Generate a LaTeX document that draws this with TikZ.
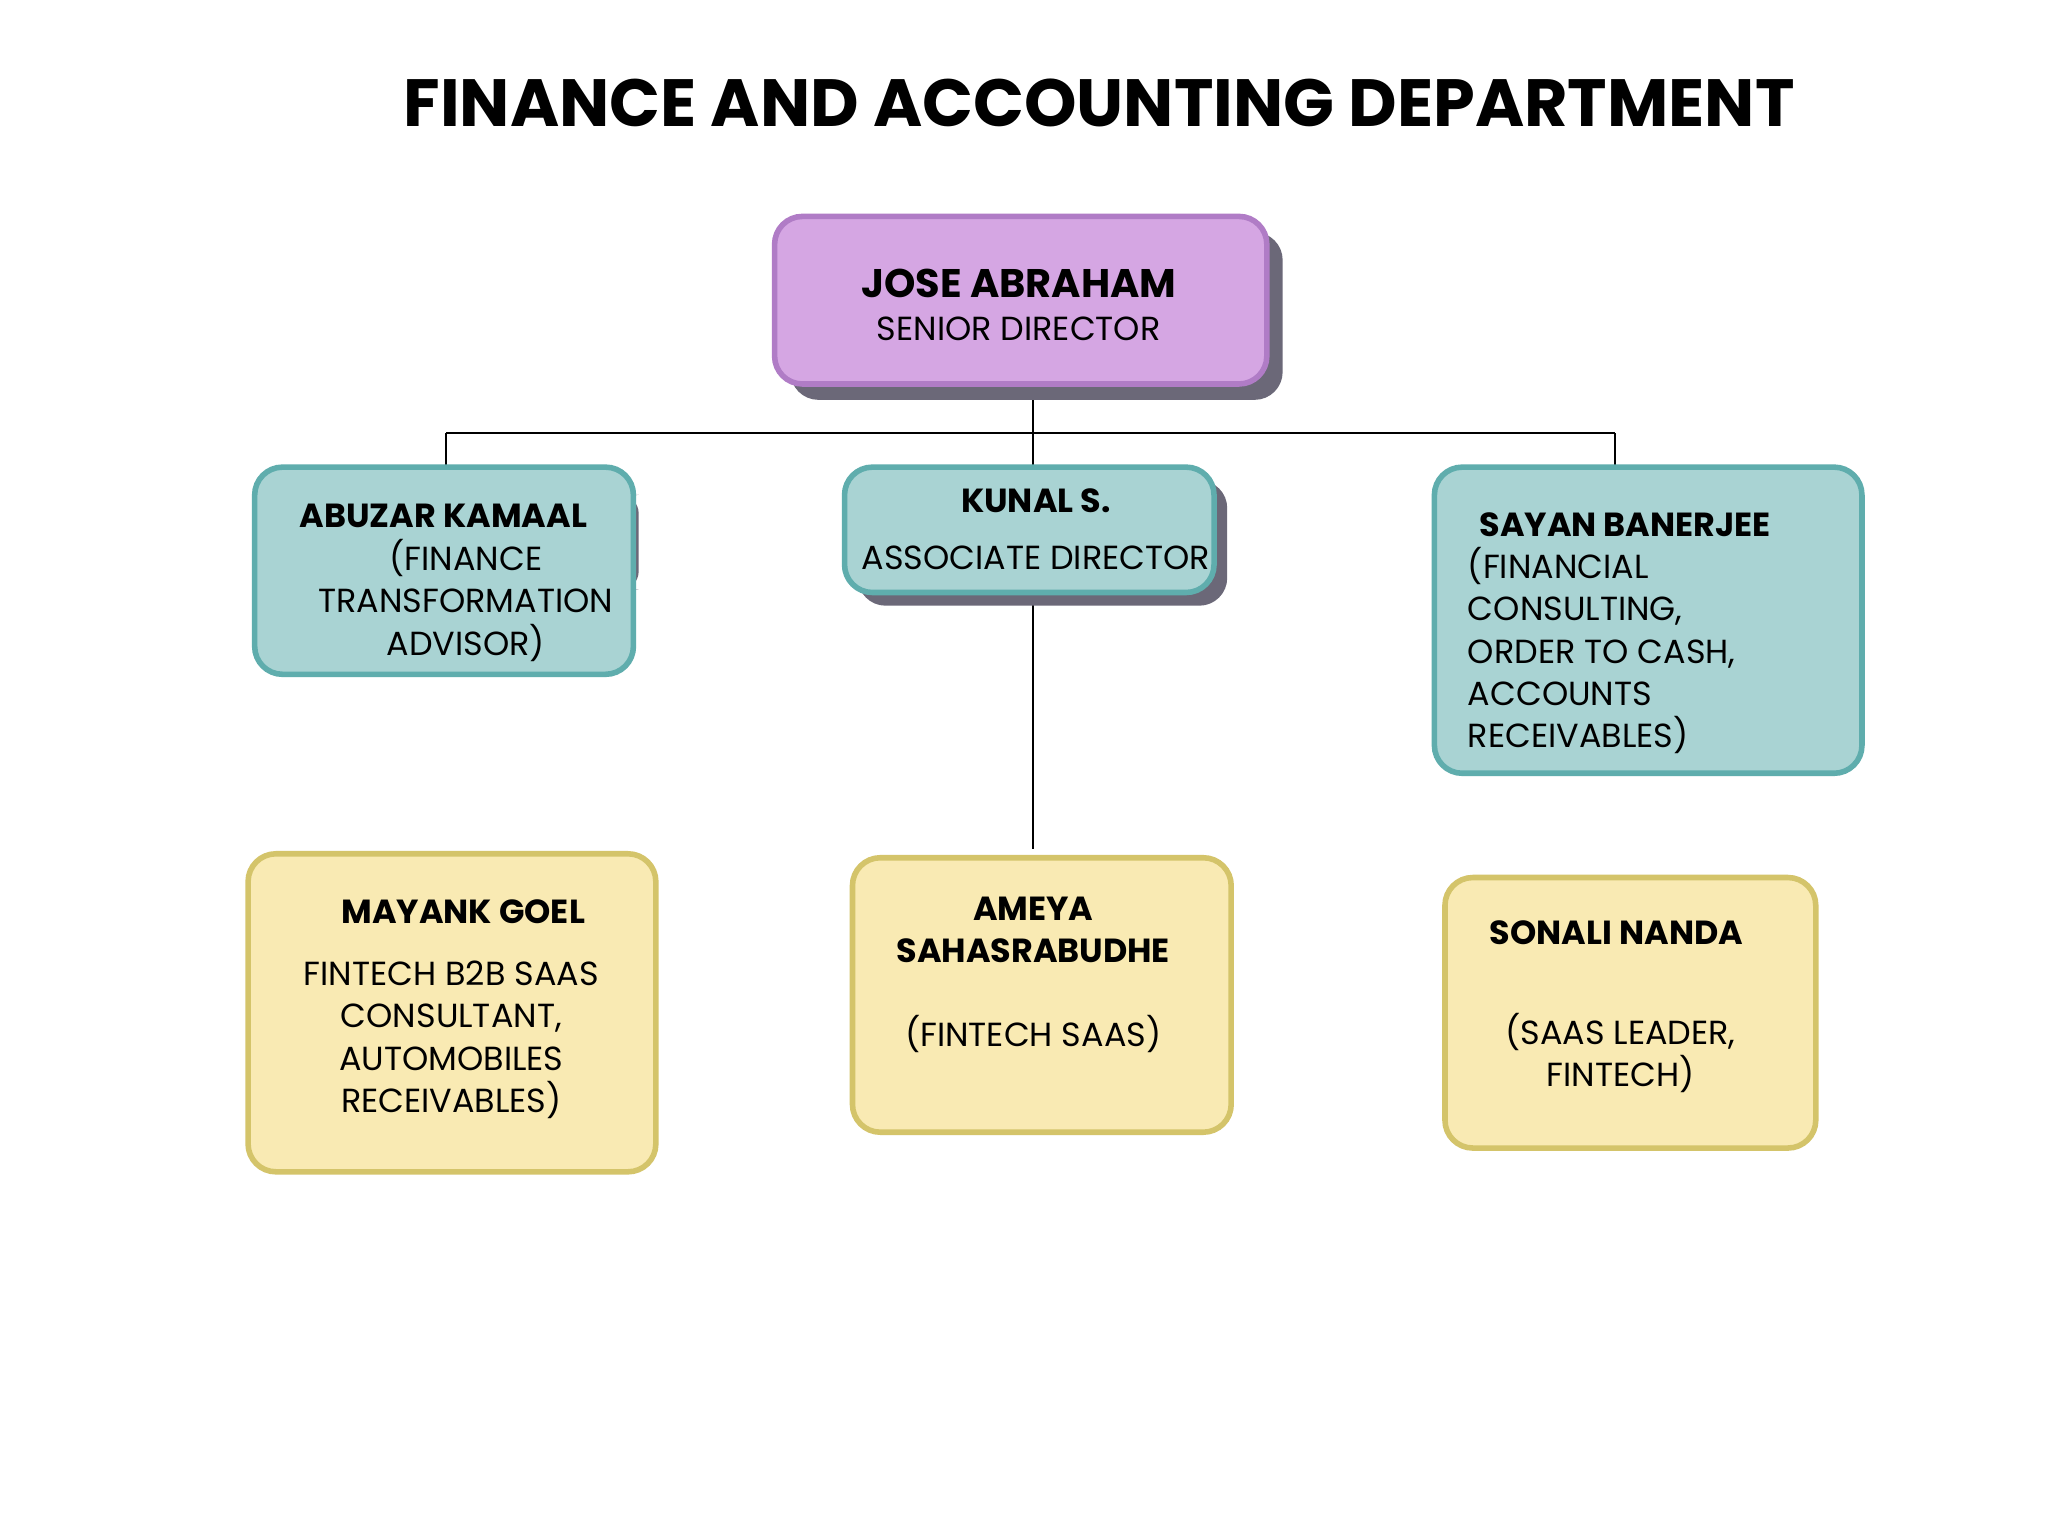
\documentclass[tikz,border=0pt]{standalone}
\usepackage{fontspec}
\setmainfont{Poppins}
\begin{document}
\begin{tikzpicture}[x=0.01cm,y=-0.01cm,
 box/.style={draw,line width=1.2pt,rounded corners=6pt},
 blue/.style={box,fill=tealf,draw=tealb},
 yel/.style={box,fill=yelf,draw=yelb},
 txt/.style={align=center,font=\fontsize{7.2}{9.1}\selectfont,text=black},
 conn/.style={draw=black,line width=0.5pt}]
\definecolor{purf}{HTML}{D5A6E3}\definecolor{purb}{HTML}{B07CC6}
\definecolor{tealf}{HTML}{A9D3D3}\definecolor{tealb}{HTML}{5FADAD}
\definecolor{yelf}{HTML}{F9EAB3}\definecolor{yelb}{HTML}{D4C46A}
\definecolor{shad}{HTML}{6B6878}
\fill[white] (0,0) rectangle (1552,1164);
\useasboundingbox (0,0) rectangle (1552,1164);
\node[font=\fontsize{14.4}{16}\selectfont\bfseries] (title) at (833,78) {FINANCE AND ACCOUNTING DEPARTMENT};
% connectors
\coordinate (jb) at (783,291);\coordinate (jm) at (783,328);
\coordinate (la) at (338,328);\coordinate (ra) at (1224,328);
\coordinate (lb) at (338,354);\coordinate (kb) at (783,354);\coordinate (rb) at (1224,354);
\coordinate (ks) at (783,458);\coordinate (am) at (783,643);
\draw[conn] (jb)--(jm); \draw[conn] (la)--(ra); \draw[conn] (la)--(lb); \draw[conn] (jm)--(kb); \draw[conn] (ra)--(rb);
\draw[conn] (ks)--(am);
% shadows
\fill[shad,rounded corners=6pt] (599,176) rectangle (972,303);
\fill[shad,rounded corners=6pt] (650,364) rectangle (930,459);
\fill[shad,rounded corners=4pt] (470,375) rectangle (484,447);
% boxes
\draw[box,fill=purf,draw=purb] (587,164) rectangle (960,291);
\node[txt] (jose) at (772,231) {{\bfseries\fontsize{8.6}{11}\selectfont JOSE ABRAHAM}\\[0pt]SENIOR DIRECTOR};
\draw[blue] (193,354) rectangle (480,511);
\node[txt,font=\fontsize{7.2}{9.1}\selectfont\bfseries] (abu) at (336,391) {ABUZAR KAMAAL};
\node[txt] (abu2) at (353,455) {(FINANCE\\TRANSFORMATION\\ADVISOR)};
\draw[blue] (640,354) rectangle (920,449);
\node[txt] (kunal) at (785,401) {{\bfseries KUNAL S.}\\[3pt]ASSOCIATE DIRECTOR};
\draw[blue] (1087,354) rectangle (1411,586);
\node[txt,align=left,anchor=north west] (sayan) at (1100,376) {\hspace*{2.5pt}{\bfseries SAYAN BANERJEE}\\(FINANCIAL\\CONSULTING,\\ORDER TO CASH,\\ACCOUNTS\\RECEIVABLES)};
\draw[yel] (188,647) rectangle (497,888);
\node[txt,font=\fontsize{7.2}{9.1}\selectfont\bfseries] (may) at (351,691) {MAYANK GOEL};
\node[txt] (may2) at (342,788) {FINTECH B2B SAAS\\CONSULTANT,\\AUTOMOBILES\\RECEIVABLES)};
\draw[yel] (646,650) rectangle (933,858);
\node[txt] (ameya) at (783,739) {{\bfseries AMEYA}\\{\bfseries SAHASRABUDHE}\\[9pt](FINTECH SAAS)};
\draw[yel] (1095,665) rectangle (1376,870);
\node[txt,font=\fontsize{7.2}{9.1}\selectfont\bfseries] (sonali) at (1225,707) {SONALI NANDA};
\node[txt] (sonali2) at (1228,798) {(SAAS LEADER,\\FINTECH)};
\end{tikzpicture}
\end{document}
